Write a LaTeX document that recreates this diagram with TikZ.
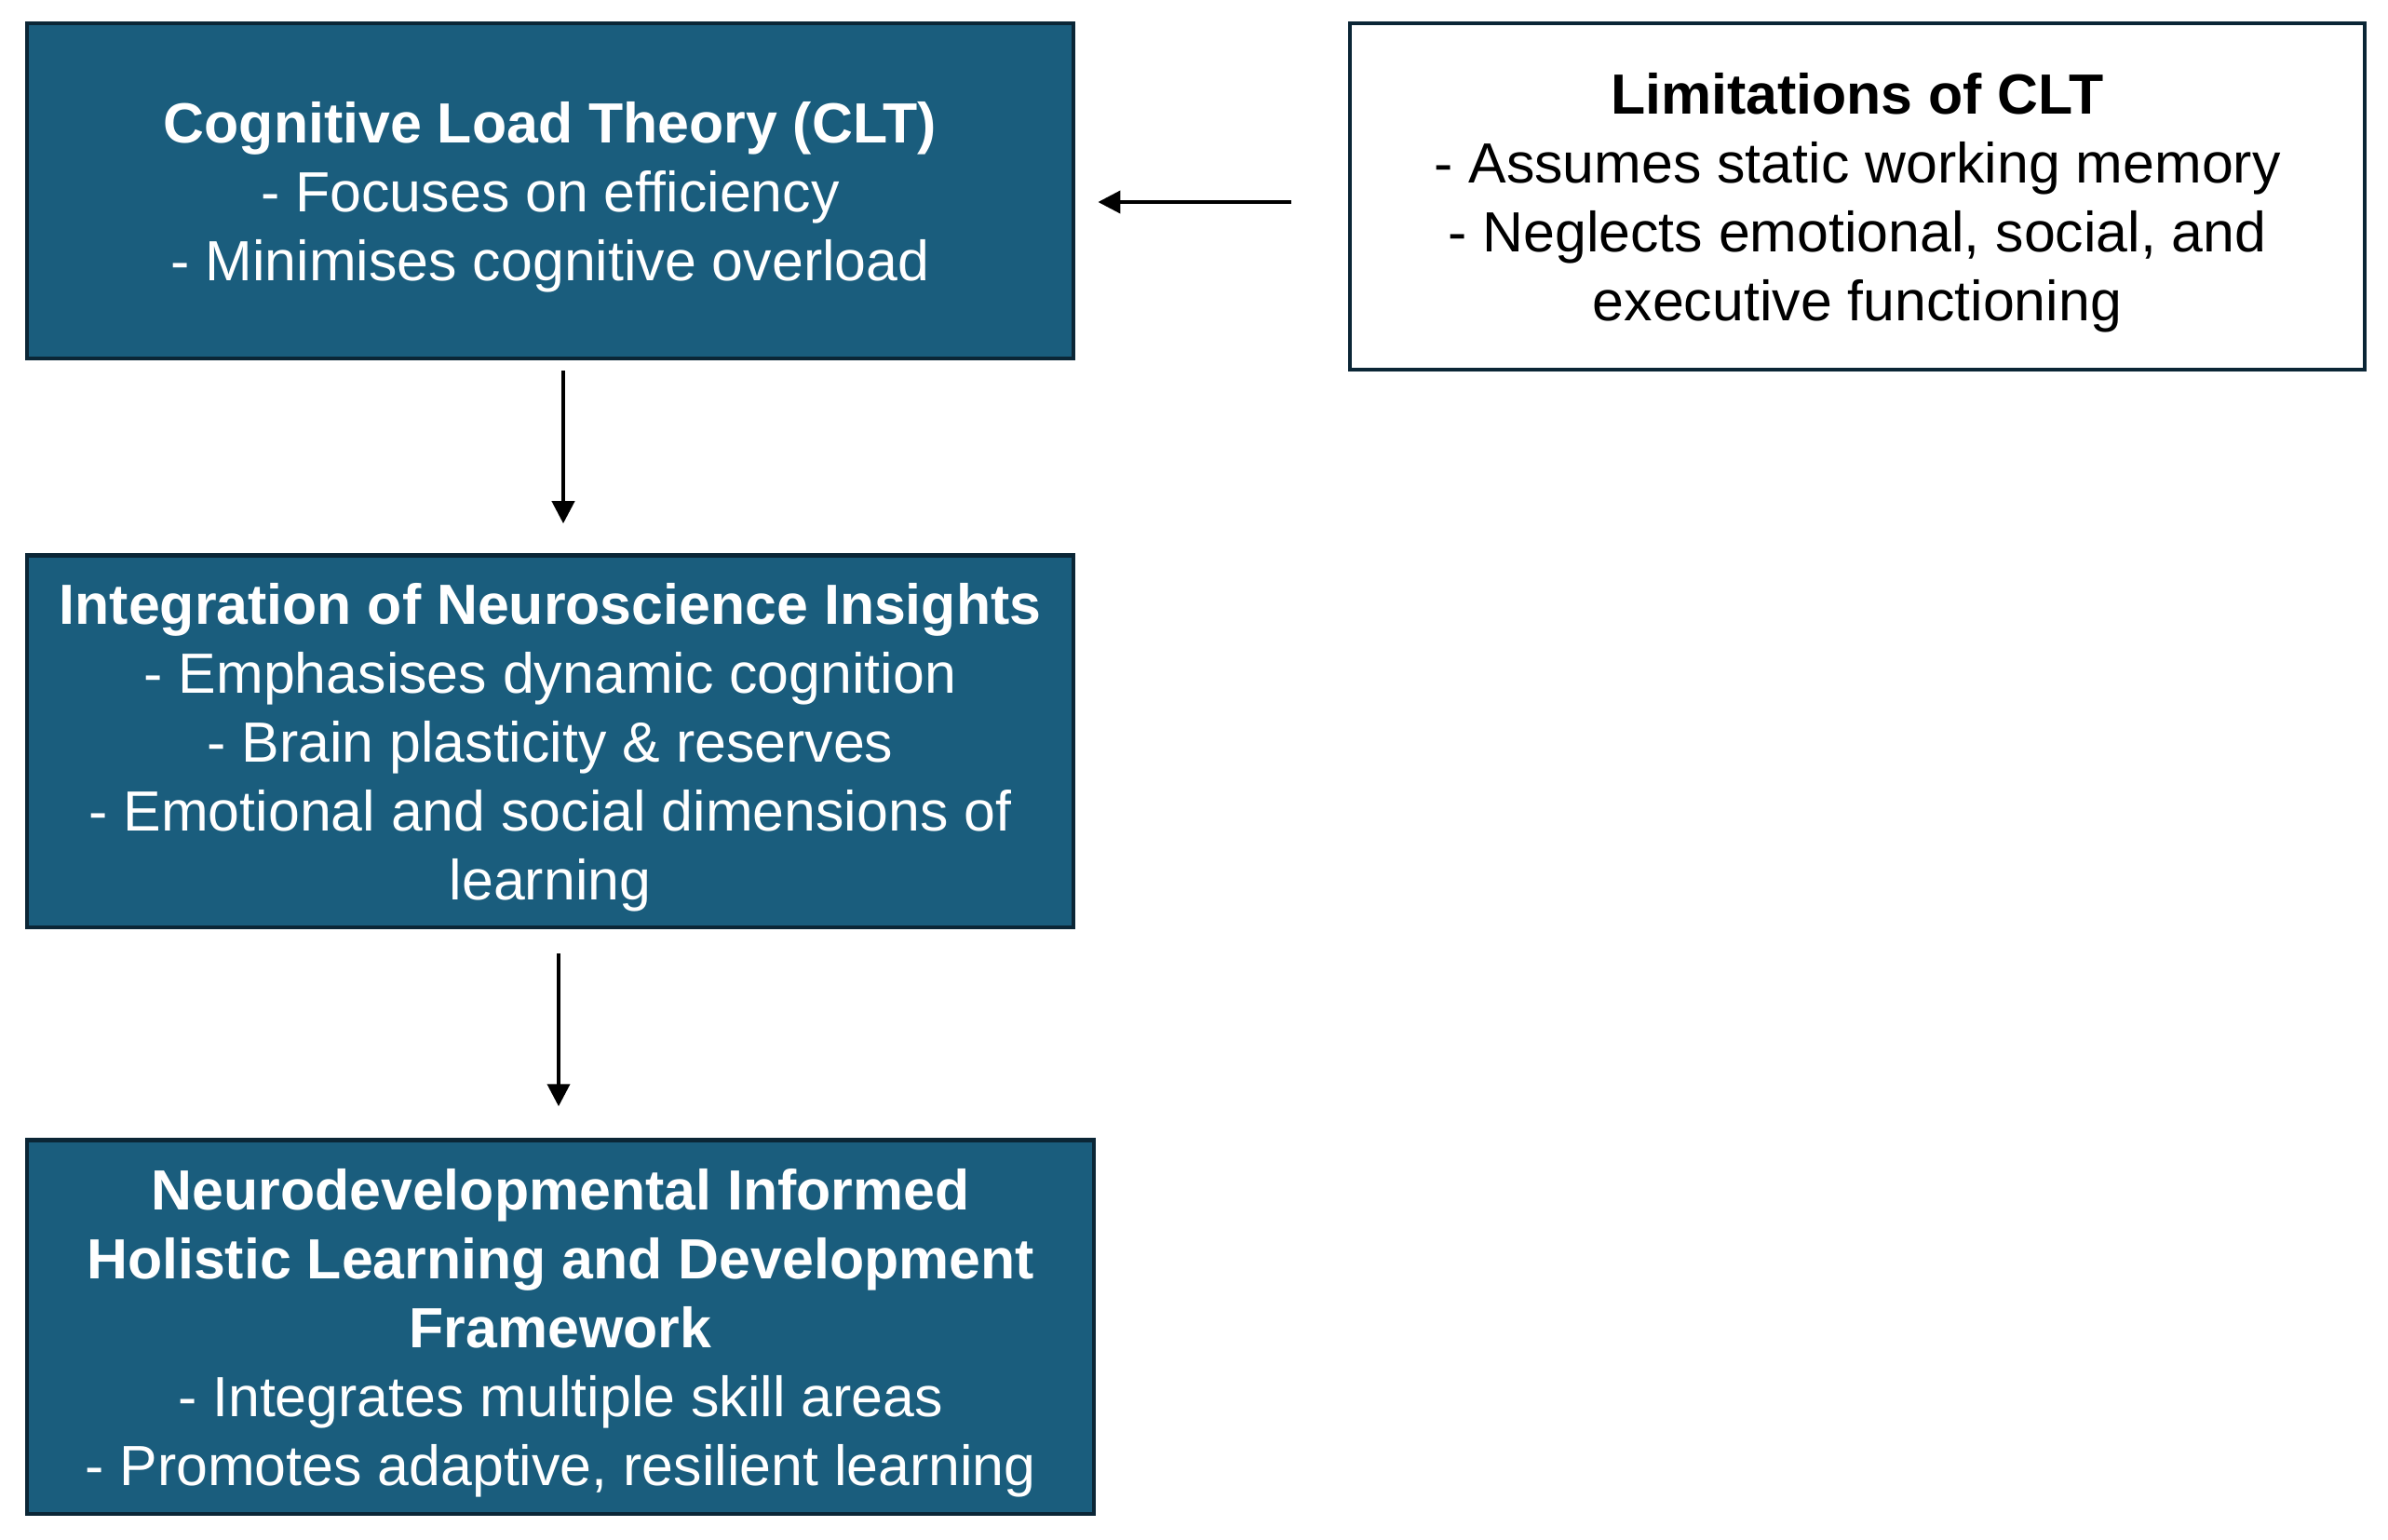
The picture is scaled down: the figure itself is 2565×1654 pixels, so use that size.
\documentclass[tikz,border=0pt]{standalone}
\usepackage{fontspec}
\setmainfont{Liberation Sans}
\usetikzlibrary{arrows.meta}
\definecolor{boxblue}{HTML}{1A5D7D}
\definecolor{boxedge}{HTML}{0B2636}
% lines of a box, set a little below the middle
\newcommand{\boxlines}[1]{\raisebox{0pt}[\dimexpr\height+4.5pt\relax][\depth]{\begin{tabular}{@{}c@{}}#1\end{tabular}}}
\begin{document}
\begin{tikzpicture}[x=0.01cm, y=-0.01cm,
    bluebox/.style={draw=boxedge, line width=1.2pt, fill=boxblue, text=white,
      font=\fontsize{17.3}{21}\selectfont, inner sep=0pt},
    whitebox/.style={draw=boxedge, line width=1.2pt, fill=white, text=black,
      font=\fontsize{17.3}{21}\selectfont, inner sep=0pt},
    flow/.style={-{Triangle[length=0.24cm, width=0.24cm]}, line width=1.1pt}]
      \useasboundingbox (0,0) rectangle (2565,1654);
      \node[bluebox, minimum width=11.24cm, minimum height=3.6cm] (clt) at (591,205)
        {\boxlines{\textbf{Cognitive Load Theory (CLT)}\\- Focuses on efficiency\\- Minimises cognitive overload}};
      \node[whitebox, minimum width=10.9cm, minimum height=3.72cm] (lim) at (1995,211)
        {\boxlines{\textbf{Limitations of CLT}\\- Assumes static working memory\\- Neglects emotional, social, and\\executive functioning}};
      \node[bluebox, minimum width=11.24cm, minimum height=3.99cm] (neuro) at (591,796)
        {\boxlines{\textbf{Integration of Neuroscience Insights}\\- Emphasises dynamic cognition\\- Brain plasticity \& reserves\\- Emotional and social dimensions of\\learning}};
      \node[bluebox, minimum width=11.46cm, minimum height=4.01cm] (frame) at (602,1425)
        {\boxlines{\textbf{Neurodevelopmental Informed}\\\textbf{Holistic Learning and Development}\\\textbf{Framework}\\- Integrates multiple skill areas\\- Promotes adaptive, resilient learning}};
      \draw[flow, shorten <=0.61cm, shorten >=0.24cm] ([yshift=-0.06cm]lim.west) -- ([yshift=-0.06cm]lim.west -| clt.east);
      \draw[flow, shorten <=0.11cm, shorten >=0.32cm] ([xshift=0.14cm]clt.south) -- ([xshift=0.14cm]clt.south |- neuro.north);
      \draw[flow, shorten <=0.26cm, shorten >=0.34cm] ([xshift=0.09cm]neuro.south) -- ([xshift=0.09cm]neuro.south |- frame.north);

    \end{tikzpicture}
\end{document}
